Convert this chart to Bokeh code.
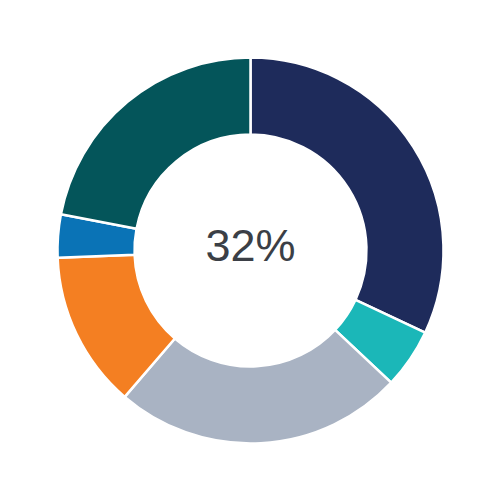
import numpy as np
from bokeh.plotting import figure
from bokeh.models import ColumnDataSource, Range1d
from bokeh.core.properties import value
from bokeh.embed import file_html
from bokeh.resources import INLINE

categories = ["A", "B", "C", "D", "E", "F"]
values = [32.0, 5.0, 24.3, 13.1, 3.6, 22.0]
colors = ["#1e2b5b", "#1bb7b8", "#a9b3c3", "#f47f22", "#0a73b6", "#04555a"]
center_label = "32%"

total = sum(values)
fr = np.array(values) / total
cum = np.concatenate([[0], np.cumsum(fr)])
# clockwise from 12 o'clock
start = np.pi / 2 - cum[:-1] * 2 * np.pi
end = np.pi / 2 - cum[1:] * 2 * np.pi

src = ColumnDataSource(dict(cat=categories, start=start, end=end, color=colors))

W = 484
p = figure(width=W, height=W, output_backend="svg", toolbar_location=None,
           x_range=Range1d(-250, 234), y_range=Range1d(-234, 250),
           min_border=0)
p.axis.visible = False
p.grid.visible = False
p.outline_line_color = None

p.annular_wedge(x=0, y=0, inner_radius=116, outer_radius=193,
                start_angle="end", end_angle="start", direction="anticlock",
                color="color", line_color="white", line_width=2.5, source=src)

p.text(x=[0], y=[5.5], text=[center_label], text_align="center", text_baseline="middle",
       text_font=value("Liberation Sans"), text_font_size="45px", text_color="#3b3f46")

open("out.html", "w").write(file_html(p, INLINE))
